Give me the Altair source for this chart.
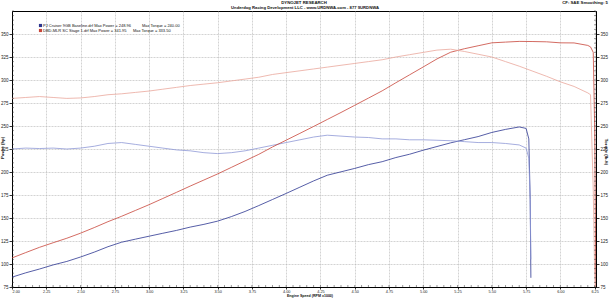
import altair as alt
import pandas as pd

# ---------------- data ----------------
rpm_blue = [2.00, 2.10, 2.20, 2.30, 2.40, 2.50, 2.60, 2.70, 2.80, 2.90, 3.00, 3.10, 3.20, 3.30,
            3.40, 3.50, 3.60, 3.70, 3.80, 3.90, 4.00, 4.10, 4.20, 4.30, 4.40, 4.50, 4.60, 4.70,
            4.80, 4.90, 5.00, 5.10, 5.20, 5.30, 5.40, 5.50, 5.60, 5.70, 5.75, 5.77, 5.78, 5.785]
hp_blue = [85.7, 90.4, 94.5, 99.0, 102.8, 107.6, 112.9, 118.8, 123.7, 127.0, 130.2, 133.4, 136.5,
           140.1, 143.1, 146.6, 151.5, 157.1, 163.5, 170.1, 176.7, 183.5, 190.3, 196.5, 200.2,
           203.9, 208.0, 211.2, 215.7, 219.3, 223.7, 227.7, 231.7, 235.1, 238.5, 243.0, 246.3,
           248.96, 247.4, 236.0, 170.0, 85.0]
tq_blue = [225.0, 226.0, 225.5, 226.0, 225.0, 226.0, 228.0, 231.0, 232.0, 230.0, 228.0, 226.0,
           224.0, 223.0, 221.0, 220.0, 221.0, 223.0, 226.0, 229.0, 232.0, 235.0, 238.0, 240.0,
           239.0, 238.0, 237.5, 236.0, 236.0, 235.0, 235.0, 234.5, 234.0, 233.0, 232.0, 232.0,
           231.0, 229.4, 226.0, 215.0, 170.0, 105.0]

rpm_red = [2.00, 2.10, 2.20, 2.30, 2.40, 2.50, 2.60, 2.70, 2.80, 2.90, 3.00, 3.10, 3.20, 3.30,
           3.40, 3.50, 3.60, 3.70, 3.80, 3.90, 4.00, 4.10, 4.20, 4.30, 4.40, 4.50, 4.60, 4.70,
           4.80, 4.90, 5.00, 5.10, 5.20, 5.30, 5.40, 5.50, 5.60, 5.70, 5.80, 5.90, 6.00, 6.10,
           6.20, 6.22, 6.24, 6.25, 6.26]
hp_red = [106.6, 112.4, 118.1, 123.1, 128.0, 133.5, 139.6, 146.0, 151.9, 158.2, 164.5, 171.2,
          177.9, 184.7, 191.3, 197.9, 205.0, 212.1, 219.2, 227.2, 234.6, 242.0, 249.5, 257.1,
          264.7, 272.5, 280.3, 288.2, 297.0, 305.6, 314.2, 322.9, 330.2, 334.0, 337.2, 340.4,
          341.2, 341.95, 341.8, 341.5, 340.4, 340.3, 337.6, 336.0, 330.0, 250.0, 60.0]
tq_red = [280.0, 281.0, 282.0, 281.0, 280.0, 280.5, 282.0, 284.0, 285.0, 286.5, 288.0, 290.0,
          292.0, 294.0, 295.5, 297.0, 299.0, 301.0, 303.0, 306.0, 308.0, 310.0, 312.0, 314.0,
          316.0, 318.0, 320.0, 322.0, 325.0, 327.5, 330.0, 332.5, 333.5, 331.0, 328.0, 325.0,
          320.0, 315.0, 309.5, 304.0, 298.0, 293.0, 286.0, 284.0, 180.0, 90.0, 50.0]

series_names = ["blue_tq", "red_tq", "blue_hp", "red_hp"]
series_colors = ["#8e98d6", "#eaa79c", "#2b3590", "#c8453a"]

x_ticks = [2.00, 2.25, 2.50, 2.75, 3.00, 3.25, 3.50, 3.75, 4.00, 4.25, 4.50, 4.75,
           5.00, 5.25, 5.50, 5.75, 6.00, 6.25]
y_ticks = [75, 100, 125, 150, 175, 200, 225, 250, 275, 300, 325, 350]
y_minor = list(range(75, 376, 5))
x_minor = [round(2.0 + 0.05 * i, 2) for i in range(0, 86)]

header_title = ["DYNOJET RESEARCH"]
header_sub = ["Underdog Racing Development LLC - www.URDNWA.com - 877 9URDNWA"]
header_right = ["CF: SAE   Smoothing: 5"]
legend_names = ["PJ Cruiser 9GB Baseline.drf Max Power = 248.96",
                "DBD-MLR SC Stage 1.drf Max Power = 341.95"]
legend_torque = ["Max Torque = 240.00", "Max Torque = 333.50"]
legend_colors = ["#2b3590", "#c8453a"]
x_title = ["Engine Speed (RPM x1000)"]
y_title_left = ["Power (hp)"]
y_title_right = ["Torque (lb-ft)"]

# ---------------- build table ----------------
rows = []
for r, v in zip(rpm_blue, hp_blue):
    rows.append({"rpm": r, "val": v, "series": "blue_hp"})
for r, v in zip(rpm_blue, tq_blue):
    rows.append({"rpm": r, "val": v, "series": "blue_tq"})
for r, v in zip(rpm_red, hp_red):
    rows.append({"rpm": r, "val": v, "series": "red_hp"})
for r, v in zip(rpm_red, tq_red):
    rows.append({"rpm": r, "val": v, "series": "red_tq"})
df = pd.DataFrame(rows)

W, H = 584, 276
FONT = "Liberation Sans"
xscale = alt.Scale(domain=[2.0, 6.26], nice=False, zero=False)
yscale = alt.Scale(domain=[75, 375], nice=False, zero=False)

lines = alt.Chart(df).mark_line(strokeWidth=0.8, clip=True).encode(
    x=alt.X("rpm:Q", scale=xscale,
            axis=alt.Axis(values=x_ticks, format=".2f", title=None, grid=True,
                          labelFontSize=3.8, labelPadding=0, tickSize=2)),
    y=alt.Y("val:Q", scale=yscale,
            axis=alt.Axis(values=y_ticks, title=None, grid=True,
                          labelFontSize=4.5, labelPadding=1, tickSize=3)),
    color=alt.Color("series:N", scale=alt.Scale(domain=series_names, range=series_colors),
                    legend=None),
    order=alt.Order("rpm:Q"),
)

right_axis = alt.Chart(df).mark_line(opacity=0).encode(
    x=alt.X("rpm:Q", scale=xscale, axis=None),
    y=alt.Y("val:Q", scale=yscale,
            axis=alt.Axis(values=y_ticks, orient="right", title=None, grid=False,
                          labelFontSize=4.5, labelPadding=1, tickSize=3)),
)

ydf = pd.DataFrame({"v": y_minor})
xdf = pd.DataFrame({"v": x_minor})
minor_left = alt.Chart(ydf).mark_rule(color="#333", strokeWidth=0.5).encode(
    y=alt.Y("v:Q", scale=yscale, axis=None), x=alt.value(0), x2=alt.value(2))
minor_right = alt.Chart(ydf).mark_rule(color="#333", strokeWidth=0.5).encode(
    y=alt.Y("v:Q", scale=yscale, axis=None), x=alt.value(W - 2), x2=alt.value(W))
minor_bottom = alt.Chart(xdf).mark_rule(color="#333", strokeWidth=0.5).encode(
    x=alt.X("v:Q", scale=xscale, axis=None), y=alt.value(H - 2), y2=alt.value(H))


def txt(lst, x, y, size, align="left", angle=0, bold=True, color="#111"):
    return alt.Chart(pd.DataFrame({"t": lst})).mark_text(
        align=align, baseline="middle", fontSize=size, font=FONT,
        fontWeight="bold" if bold else "normal", angle=angle, color=color
    ).encode(text="t:N", x=alt.value(x), y=alt.value(y))


t1 = txt(header_title, 292, -8, 4.3, align="center")
t2 = txt(header_sub, 293, -3, 4.2, align="center")
t3 = txt(header_right, 596, -8, 4.3, align="right")
xt = txt(x_title, 298, 284.5, 3.6, align="center")
ylt = txt(y_title_left, -9, 137, 4.3, align="center", angle=270)
yrt = txt(y_title_right, 594, 141, 4.3, align="center", angle=90)

leg_df = pd.DataFrame({"name": legend_names, "tq": legend_torque, "c": legend_colors,
                       "yy": [14.5, 19.5], "xq": [130, 121]})
leg_sq = alt.Chart(leg_df).mark_square(size=10, opacity=1).encode(
    x=alt.value(28.5), y=alt.Y("yy:Q", scale=alt.Scale(domain=[0, H], range=[0, H]), axis=None),
    color=alt.Color("c:N", scale=None))
leg_t1 = alt.Chart(leg_df).mark_text(align="left", baseline="middle", fontSize=4,
                                     font=FONT, color="#111").encode(
    x=alt.value(31), y=alt.Y("yy:Q", scale=alt.Scale(domain=[0, H], range=[0, H]), axis=None),
    text="name:N")
leg_t2 = alt.Chart(leg_df).mark_text(align="left", baseline="middle", fontSize=4,
                                     font=FONT, color="#111").encode(
    x=alt.X("xq:Q", scale=alt.Scale(domain=[0, W], range=[0, W]), axis=None),
    y=alt.Y("yy:Q", scale=alt.Scale(domain=[0, H], range=[0, H]), axis=None),
    text="tq:N")

chart = alt.layer(
    lines, right_axis, minor_left, minor_right, minor_bottom,
    t1, t2, t3, xt, ylt, yrt, leg_sq, leg_t1, leg_t2
).resolve_scale(x="independent", y="independent").properties(
    width=W, height=H,
    padding={"left": 12, "top": 11, "right": 14, "bottom": 11},
    autosize="none",
    background="white",
).configure_view(
    stroke="#000", strokeWidth=1
).configure_axis(
    labelFont=FONT, labelColor="#222", tickColor="#333", domainColor="#000",
    gridColor="#b5b5b5", gridWidth=0.6, gridDash=[2, 1], domainWidth=1
)

chart.save("out.html", embed_options={"renderer": "svg", "actions": False})
